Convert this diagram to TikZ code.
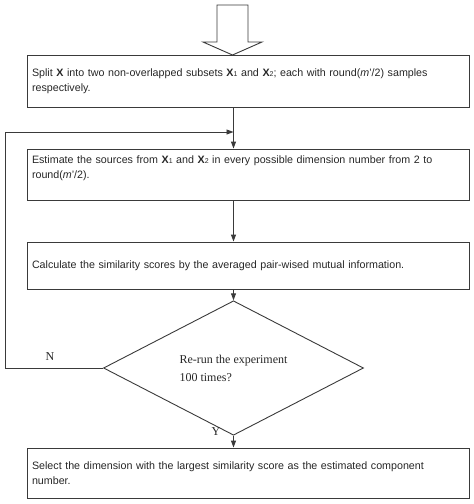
\documentclass[tikz,border=0pt]{standalone}
\usepackage{fontspec}
\setmainfont{Liberation Serif}
\setsansfont{Liberation Sans}
\usetikzlibrary{arrows.meta,shapes.geometric}
\definecolor{ln}{HTML}{3A3A3A}
\newcommand{\sbx}[1]{\textbf{X}{\scriptsize #1}}
\newcommand{\nohyph}{\hyphenpenalty=10000\relax\exhyphenpenalty=10000\relax}
\begin{document}
\begin{tikzpicture}[x=1pt,y=-1pt,
  box/.style={draw=ln,line width=0.9pt,rectangle,minimum width=442pt,minimum height=52pt,
    text width=432pt,inner xsep=5pt,align=left,font=\sffamily\fontsize{10.7}{14.5}\selectfont\nohyph,text=black!85},
  arr/.style={draw=ln,line width=0.9pt,-{Triangle[length=7pt,width=5pt]}},
  dec/.style={draw=ln,line width=0.9pt,shape=diamond,minimum width=260pt,minimum height=81pt,inner sep=0pt,
    align=left,font=\fontsize{12}{18}\selectfont,text=black!85},
  lab/.style={font=\fontsize{12}{14}\selectfont,text=black!85}]
\useasboundingbox (0,0) rectangle (474,504);
% big input arrow
\draw[ln,line width=0.9pt,fill=white] (217,5) -- (248,5) -- (248,42) -- (262,42) -- (232.5,55) -- (203,42) -- (217,42) -- cycle;
\node[box] (b1) at (248,81) {Split \textbf{X} into two non-overlapped subsets \sbx{1} and \sbx{2}; each with round(\textit{m}'/2) samples respectively.};
\node[box,minimum height=51pt] (b2) at (248,174.5) {Estimate the sources from \sbx{1} and \sbx{2} in every possible dimension number from 2 to round(\textit{m}'/2).\\ \mbox{}};
\node[box,minimum height=47pt] (b3) at (248,265.5) {Calculate the similarity scores by the averaged pair-wised mutual information.};
\node[dec] (d) at (233.5,368) {Re-run the experiment\\100 times?};
\node[box,minimum height=50pt] (b4) at (248,473) {Select the dimension with the largest similarity score as the estimated component number.};
\coordinate (j) at (233.5,132);
\coordinate (c) at (5,132);
\draw[arr] (b1.south -| j) -- (b2.north -| j);
\draw[arr] (b2.south -| j) -- (b3.north -| j);
\draw[arr] (b3.south -| j) -- (d.north);
\draw[arr] (d.south) -- (b4.north -| j);
\draw[arr] (d.west) -| (c) -- (j);
\node[lab] (n) at (50,357) {N};
\node[lab] (y) at (216,432) {Y};
\end{tikzpicture}
\end{document}
